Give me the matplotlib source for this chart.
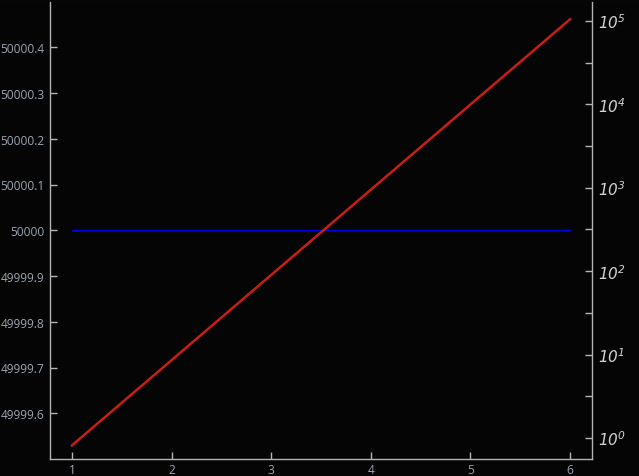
import matplotlib
matplotlib.use("Agg")
import matplotlib.pyplot as plt
from matplotlib.ticker import FixedLocator, FixedFormatter

# data
x_vals = [1, 2, 3, 4, 5, 6]
flat_vals = [50000, 50000, 50000, 50000, 50000, 50000]
growth_vals = [0.815, 8.57, 90.2, 948, 9977, 105000]

left_ticks = [49999.6, 49999.7, 49999.8, 49999.9, 50000, 50000.1, 50000.2, 50000.3, 50000.4]
left_labels = ["49999.6", "49999.7", "49999.8", "49999.9", "50000",
               "50000.1", "50000.2", "50000.3", "50000.4"]
right_ticks = [1, 10, 100, 1000, 10000, 100000]
right_labels = [r"$10^{0}$", r"$10^{1}$", r"$10^{2}$",
                r"$10^{3}$", r"$10^{4}$", r"$10^{5}$"]
right_minor = [10 ** (k + 0.5) for k in range(-1, 6)]

bg = "#050505"
spine_col = "#b4b4b4"
label_col = "#9aa6b2"

plt.rcParams["font.family"] = ["Open Sans", "DejaVu Sans"]
plt.rcParams["mathtext.fontset"] = "custom"
plt.rcParams["mathtext.rm"] = "DejaVu Sans:italic"
plt.rcParams["mathtext.it"] = "DejaVu Sans:italic"

fig = plt.figure(figsize=(6.39, 4.77), dpi=100, facecolor=bg)
ax = fig.add_axes([50 / 639, 17 / 477, 542 / 639, 457.5 / 477], facecolor=bg)
ax2 = ax.twinx()

ax.plot(x_vals, flat_vals, color="#0000e0", linewidth=1.0)
ax2.plot(x_vals, growth_vals, color="#c81e14", linewidth=1.8)

ax.set_xlim(0.78, 6.22)
ax.set_ylim(49999.5, 50000.5)
ax.set_xticks(x_vals)
ax.set_yticks(left_ticks)
ax.set_yticklabels(left_labels)

ax2.set_yscale("log")
ax2.set_ylim(10 ** -0.252, 10 ** 5.234)
ax2.yaxis.set_major_locator(FixedLocator(right_ticks))
ax2.yaxis.set_major_formatter(FixedFormatter(right_labels))
ax2.yaxis.set_minor_locator(FixedLocator(right_minor))
ax2.yaxis.set_minor_formatter(FixedFormatter([""] * len(right_minor)))

for a in (ax, ax2):
    for side in a.spines:
        a.spines[side].set_color(spine_col)
        a.spines[side].set_linewidth(1.0)
    a.spines["top"].set_visible(False)

ax.spines["right"].set_visible(False)
ax2.spines["left"].set_visible(False)
ax2.spines["bottom"].set_visible(False)

ax.tick_params(axis="y", direction="in", length=5, width=1, color=spine_col,
               labelcolor=label_col, labelsize=8.6, pad=4)
ax.tick_params(axis="x", direction="in", length=5, width=1, color=spine_col,
               labelcolor=label_col, labelsize=8.6, pad=3)
ax2.tick_params(axis="y", which="major", direction="in", length=5, width=1,
                color=spine_col, labelcolor="#d4d4d4", labelsize=11, pad=4)
ax2.tick_params(axis="y", which="minor", direction="in", length=5, width=1,
                color=spine_col)

# thin grey border along the top of the window
fig.add_artist(plt.Line2D([0, 1], [0.999, 0.999], color="#30353a", linewidth=1.5,
                          transform=fig.transFigure))

fig.savefig("out.png", dpi=100, facecolor=bg)
